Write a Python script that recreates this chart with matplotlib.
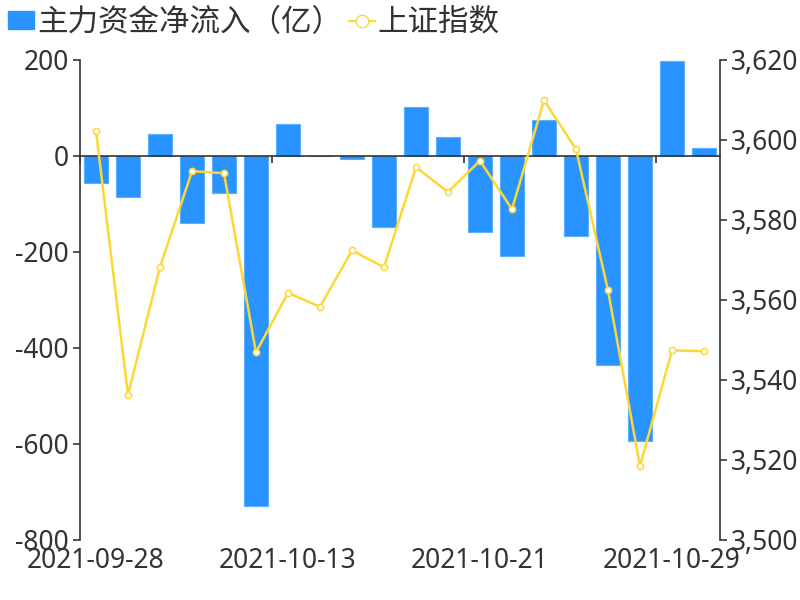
import matplotlib
matplotlib.use("Agg")
import matplotlib.pyplot as plt
from matplotlib.patches import Patch
from matplotlib.lines import Line2D
import matplotlib.transforms as mtransforms
from matplotlib.ticker import FuncFormatter

plt.rcParams['font.family'] = ['Noto Sans', 'Noto Sans CJK SC', 'DejaVu Sans']
plt.rcParams['axes.unicode_minus'] = False

# data
dates = ['2021-09-28', '2021-09-29', '2021-09-30', '2021-10-08', '2021-10-11',
         '2021-10-12', '2021-10-13', '2021-10-14', '2021-10-15', '2021-10-18',
         '2021-10-19', '2021-10-20', '2021-10-21', '2021-10-22', '2021-10-25',
         '2021-10-26', '2021-10-27', '2021-10-28', '2021-10-29', '2021-11-01']
net_inflow = [-57, -85, 46, -140, -78, -730, 66, 0, -6, -148,
              103, 39, -158, -208, 76, -166, -435, -594, 197, 16]
sh_index = [3602.2, 3536.3, 3568.2, 3592.2, 3591.7, 3546.9, 3561.8, 3558.3, 3572.4, 3568.2,
            3593.2, 3587.0, 3594.8, 3582.7, 3609.9, 3597.7, 3562.4, 3518.5, 3547.4, 3547.2]
label_every = 6

bar_name = '主力资金净流入（亿）'
line_name = '上证指数'
bar_color = '#2994ff'
line_color = '#fdd835'
axis_color = '#333333'
text_color = '#333333'

fig = plt.figure(figsize=(8, 6), dpi=100)
ax = fig.add_axes([0.1, 0.1, 0.8, 0.8])
ax2 = ax.twinx()

x = list(range(len(dates)))
ax.bar(x, net_inflow, width=0.78, color=bar_color, edgecolor='#5caeff', linewidth=0.8, zorder=2)
ax.set_xlim(-0.5, len(dates) - 0.5)
ax.set_ylim(-800, 200)
ax.set_yticks(range(-800, 201, 200))

ax2.plot(x, sh_index, color=line_color, linewidth=1.8, marker='o', markersize=4.5,
         markerfacecolor='white', markeredgecolor=line_color, markeredgewidth=1.1, zorder=3)
ax2.set_ylim(3500, 3620)
ax2.set_yticks(range(3500, 3621, 20))
ax2.yaxis.set_major_formatter(FuncFormatter(lambda v, p: f'{int(v):,}'))

for a in (ax, ax2):
    a.spines['top'].set_visible(False)
    for s in a.spines.values():
        s.set_color(axis_color)
        s.set_linewidth(1.2)
    a.tick_params(axis='y', colors=axis_color, labelcolor=text_color, labelsize=19,
                  length=5, width=1.2, pad=3)

ax.spines['right'].set_visible(False)
ax2.spines['left'].set_visible(False)
ax2.spines['bottom'].set_visible(False)
ax.spines['bottom'].set_position(('data', 0))

# x ticks at the category boundaries, labels at the bottom
ax.set_xticks([i - 0.5 for i in x[::label_every]])
ax.set_xticklabels([])
ax.tick_params(axis='x', colors=axis_color, length=5, width=1.2)
trans = mtransforms.blended_transform_factory(ax.transData, ax.transAxes)
for i in x[::label_every]:
    ax.text(i, -0.015, dates[i], transform=trans, ha='center', va='top',
            fontsize=19, color=text_color)

ax2.set_zorder(ax.get_zorder() + 1)
ax2.patch.set_visible(False)

handles = [Patch(facecolor=bar_color, edgecolor=bar_color, label=bar_name),
           Line2D([0], [0], color=line_color, linewidth=1.5, marker='o', markersize=9,
                  markerfacecolor='white', markeredgecolor=line_color, label=line_name)]
fig.legend(handles=handles, loc='upper left', bbox_to_anchor=(0.006, 0.992), ncol=2,
           frameon=False, fontsize=22, handlelength=0.85, handleheight=0.5,
           handletextpad=0.1, columnspacing=0.22, borderaxespad=0, borderpad=0.1,
           labelcolor=text_color)

fig.savefig('out.png', dpi=100)
